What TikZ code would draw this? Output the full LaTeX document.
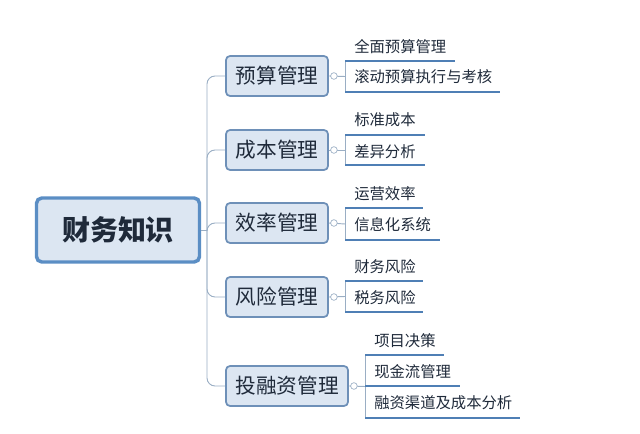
\documentclass[tikz,border=0pt]{standalone}
\usepackage{fontspec}
\setmainfont{Noto Sans CJK SC}
\begin{document}
\begin{tikzpicture}[x=0.75pt,y=-0.75pt,
  root/.style={draw=rootb,line width=2.6pt,fill=boxf,rounded corners=4pt,minimum width=163*0.75pt,minimum height=64*0.75pt,font=\fontsize{21}{24}\selectfont\bfseries,text=txt},
  br/.style={draw=brb,line width=1.3pt,fill=boxf,rounded corners=3pt,minimum height=40*0.75pt,font=\fontsize{15.5}{18}\selectfont,text=txt,inner sep=0pt},
  lf/.style={anchor=west,font=\fontsize{11.5}{13}\selectfont,text=txt,inner sep=0pt},
  ul/.style={draw=ulc,line width=1.6pt},
  ln/.style={draw=lnc,line width=0.7pt},
  tg/.style={circle,draw=lnc,line width=0.5pt,fill=white,inner sep=0pt,minimum size=5pt}]
\definecolor{rootb}{HTML}{5B8EC4}\definecolor{brb}{HTML}{6E90B8}
\definecolor{boxf}{HTML}{DCE6F2}\definecolor{txt}{HTML}{1F2A3A}
\definecolor{ulc}{HTML}{4F7FB5}\definecolor{lnc}{HTML}{9AAEC4}
\useasboundingbox (0,0) rectangle (640,434);
\node[root] (r) at (118,230) {财务知识};
\node[br,minimum width=102*0.75pt] (b1) at (277,76) {预算管理};
\node[br,minimum width=102*0.75pt] (b2) at (277,150) {成本管理};
\node[br,minimum width=102*0.75pt] (b3) at (277,223) {效率管理};
\node[br,minimum width=102*0.75pt] (b4) at (277,297) {风险管理};
\node[br,minimum width=122*0.75pt] (b5) at (287,386) {投融资管理};
\coordinate (t) at (207,230);
\draw[ln] (r.east) -- (t);
\foreach \b/\y in {b1/76,b2/150,b3/223,b4/297,b5/386}{
  \draw[ln,rounded corners=6pt] (t) -- (207,\y) -- (\b.west);}
\foreach \b/\bx/\ya/\yb in {b1/345/61/92,b2/345/135/165,b3/345/208/240,b4/345/281/312,b5/365/355/418}{
  \coordinate (j) at (\bx,{(\ya+\yb)/2});
  \draw[ln] (\b.east) -- (j);
  \draw[ln] (\bx,\ya) -- (\bx,\yb);
  \node[tg,xshift=3.8pt] (c\b) at (\b.east) {};}
\foreach \n/\x/\ty/\uy/\ux/\s in {
 l1/354/47/61/455/全面预算管理, l2/354/77/92/500/滚动预算执行与考核,
 l3/354/120/135/425/标准成本, l4/354/152/165/425/差异分析,
 l5/354/194/208/423/运营效率, l6/354/225/240/440/信息化系统,
 l7/354/267/281/423/财务风险, l8/354/298/312/423/税务风险,
 l9/374/341/355/444/项目决策, l10/374/372/386/460/现金流管理, l11/374/403/418/520/融资渠道及成本分析}{
  \node[lf] (\n) at (\x,\ty) {\s};
  \draw[ul] (\x-9,\uy) -- (\ux,\uy);}
\end{tikzpicture}
\end{document}
